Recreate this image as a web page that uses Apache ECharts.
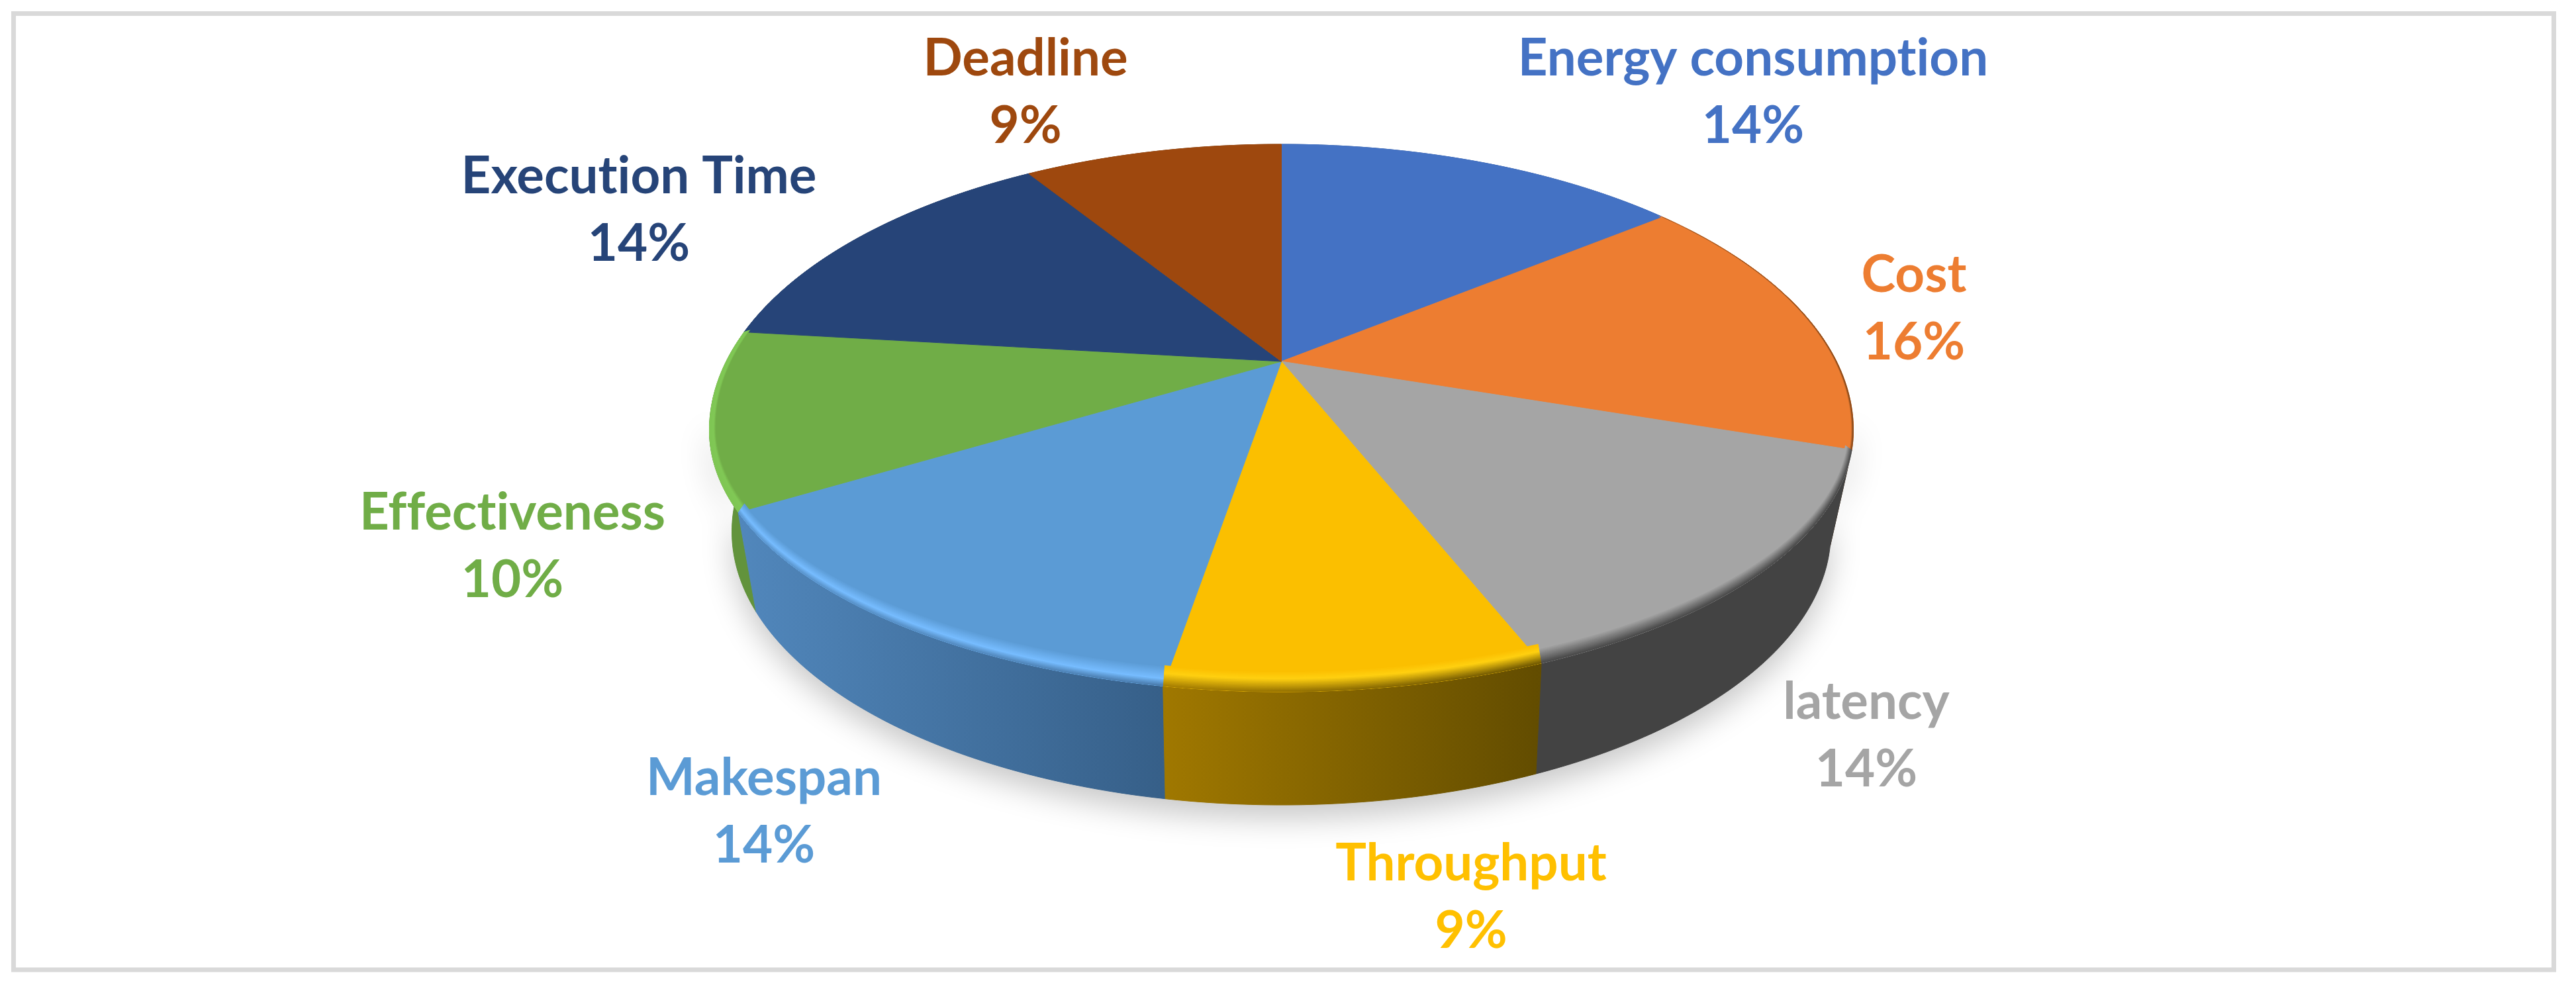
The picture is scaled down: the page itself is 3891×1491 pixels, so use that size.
<!DOCTYPE html>
<html>
<head>
<meta charset="utf-8">
<style>html,body{margin:0;padding:0;background:#fff}#c{width:3891px;height:1491px}</style>
<script src="https://cdn.jsdelivr.net/npm/echarts@6/dist/echarts.min.js"></script>
</head>
<body>
<div id="c"></div>
<script>
const categories = ['Energy consumption','Cost','latency','Throughput','Makespan','Effectiveness','Execution Time','Deadline'];
const shares = [14.45,15.55,14.08,8.52,13.8,10.4,14.0,9.2];
const faceColors = ['#4472c4','#ed7d31','#a5a5a5','#fbbf00','#5b9bd5','#70ad47','#264478','#9e480e'];
const labelColors = ['#4472c4','#ed7d31','#a5a5a5','#ffc000','#5b9bd5','#70ad47','#264478','#9e480e'];
const wallLeft = ['#2f5597','#5f3410','#434343','#a07800','#5187bc','#62933c','#1a3055','#6e330a'];
const wallRight = ['#2f5597','#5f3410','#434343','#624c00','#365f88','#62933c','#1a3055','#6e330a'];
const rimHi = ['#4472c4','#ed7d31','#a5a5a5','#ffd010','#76bcff','#80c855','#264478','#9e480e'];
const rimHiAt = [1,0.6,0.2,0.35,0.6,0.3,1,1];
const rimEndMix = [0,1,1,1,0.8,0.05,0,0];
const labelX = [2648,2891,2819,2222,1154,774,965,1549];
const labelY = [140,467,1112,1356,1227,826,318,140];

const topRim = {cx:1935.5, cy:650, rx:864, ryUp:432, ryLow:395, a:0.24};
const faceEdge = {cx:1935.5, cy:645, rx:854, ryUp:427, ryLow:368, a:0.24};
const baseRim = {cx:1935.5, cy:803, rx:830, ryUp:413, ryLow:413, a:0.26};
const apex = [1935.5, 546];

const total = shares.reduce((a,b)=>a+b,0);
const cum = [0]; shares.forEach(v=>cum.push(cum[cum.length-1]+v));

const origGetContext = HTMLCanvasElement.prototype.getContext;
HTMLCanvasElement.prototype.getContext = function(){
  const ctx = origGetContext.apply(this, arguments);
  if(ctx && 'textRendering' in ctx) ctx.textRendering = 'optimizeSpeed';
  return ctx;
};

function onEllipse(e, deg){
  const t = deg*Math.PI/180, s = Math.sin(t), c = Math.cos(t), d = 1+e.a*c;
  const yn = (c+e.a)/d;
  return [e.cx + e.rx*s*Math.sqrt(1-e.a*e.a)/d, e.cy - (yn>=0?e.ryUp:e.ryLow)*yn];
}
function arc(e, a0, a1){
  const n = Math.max(2, Math.ceil(Math.abs(a1-a0))), out = [];
  for(let i=0;i<=n;i++) out.push(onEllipse(e, a0+(a1-a0)*i/n));
  return out;
}
function lerpEllipse(u){
  const k = {};
  for(const f of ['cx','cy','rx','ryUp','ryLow','a']) k[f] = faceEdge[f]+(topRim[f]-faceEdge[f])*u;
  return k;
}
function hex(c){ return [1,3,5].map(i=>parseInt(c.substr(i,2),16)); }
function mix(c1,c2,t){
  const a=hex(c1), b=hex(c2);
  return '#'+a.map((v,i)=>Math.round(v+(b[i]-v)*t).toString(16).padStart(2,'0')).join('');
}
function rimColor(i,u,wall){
  const at = rimHiAt[i];
  if(u<=at) return mix(faceColors[i], rimHi[i], at===0?1:u/at);
  return mix(rimHi[i], wall, rimEndMix[i]*(u-at)/(1-at));
}
const LAYERS = 16;

function renderItem(params, api){
  const i = params.dataIndex;
  const a0 = cum[i]/total*360, a1 = cum[i+1]/total*360, mid=(a0+a1)/2;
  const children = [];
  if(i===0){
    const sil = arc(topRim,100,260).concat(arc(baseRim,260,100));
    children.push({type:'polygon', z2:0, shape:{points:sil},
      style:{fill:'#888', shadowBlur:46, shadowColor:'rgba(0,0,0,0.22)', shadowOffsetY:20}});
  }
  const wall = arc(topRim,a0,a1).concat(arc(baseRim,a1,a0));
  const wallFill = new echarts.graphic.LinearGradient(0,0,1,0,[{offset:0,color:wallLeft[i]},{offset:1,color:wallRight[i]}]);
  children.push({type:'polygon', z2:1+(180-Math.abs(mid-180)), shape:{points:wall},
    style:{fill:wallFill, stroke:wallFill, lineWidth:1}});
  const face = [apex].concat(arc(topRim,a0,a1));
  children.push({type:'polygon', z2:500, shape:{points:face},
    style:{fill:faceColors[i], stroke:faceColors[i], lineWidth:1}});
  if(rimEndMix[i]>0 || rimHi[i]!==faceColors[i]){
    for(let k=0;k<LAYERS;k++){
      const u=k/(LAYERS-1), e=lerpEllipse(u);
      const band = arc(e,a0,a1).concat(arc(topRim,a1,a0));
      children.push({type:'polygon', z2:600+k, shape:{points:band},
        style:{fill:new echarts.graphic.LinearGradient(0,0,1,0,[
          {offset:0,color:rimColor(i,u,wallLeft[i])},
          {offset:1,color:rimColor(i,u,wallRight[i])}])}});
    }
  }
  const pct = Math.round(api.value(0)/total*100)+'%';
  children.push({type:'text', z2:900, style:{
    x:labelX[i], y:labelY[i], text:categories[i]+'\n'+pct,
    fill:labelColors[i], font:'bold 78px Lato', lineHeight:102,
    textAlign:'center', textVerticalAlign:'middle'}});
  return {type:'group', children};
}

const chart = echarts.init(document.getElementById('c'), null, {renderer:'canvas'});
chart.setOption({
  animation:false,
  backgroundColor:'#fff',
  graphic:[{type:'rect', silent:true, z:0, shape:{x:20.5,y:20.5,width:3837,height:1444.5},
    style:{fill:'none', stroke:'#d9d9d9', lineWidth:7}}],
  series:[{type:'custom', coordinateSystem:'none', renderItem, clip:false, silent:true,
    data:shares.map((v,i)=>({name:categories[i], value:[v]}))}]
});
</script>
</body>
</html>
